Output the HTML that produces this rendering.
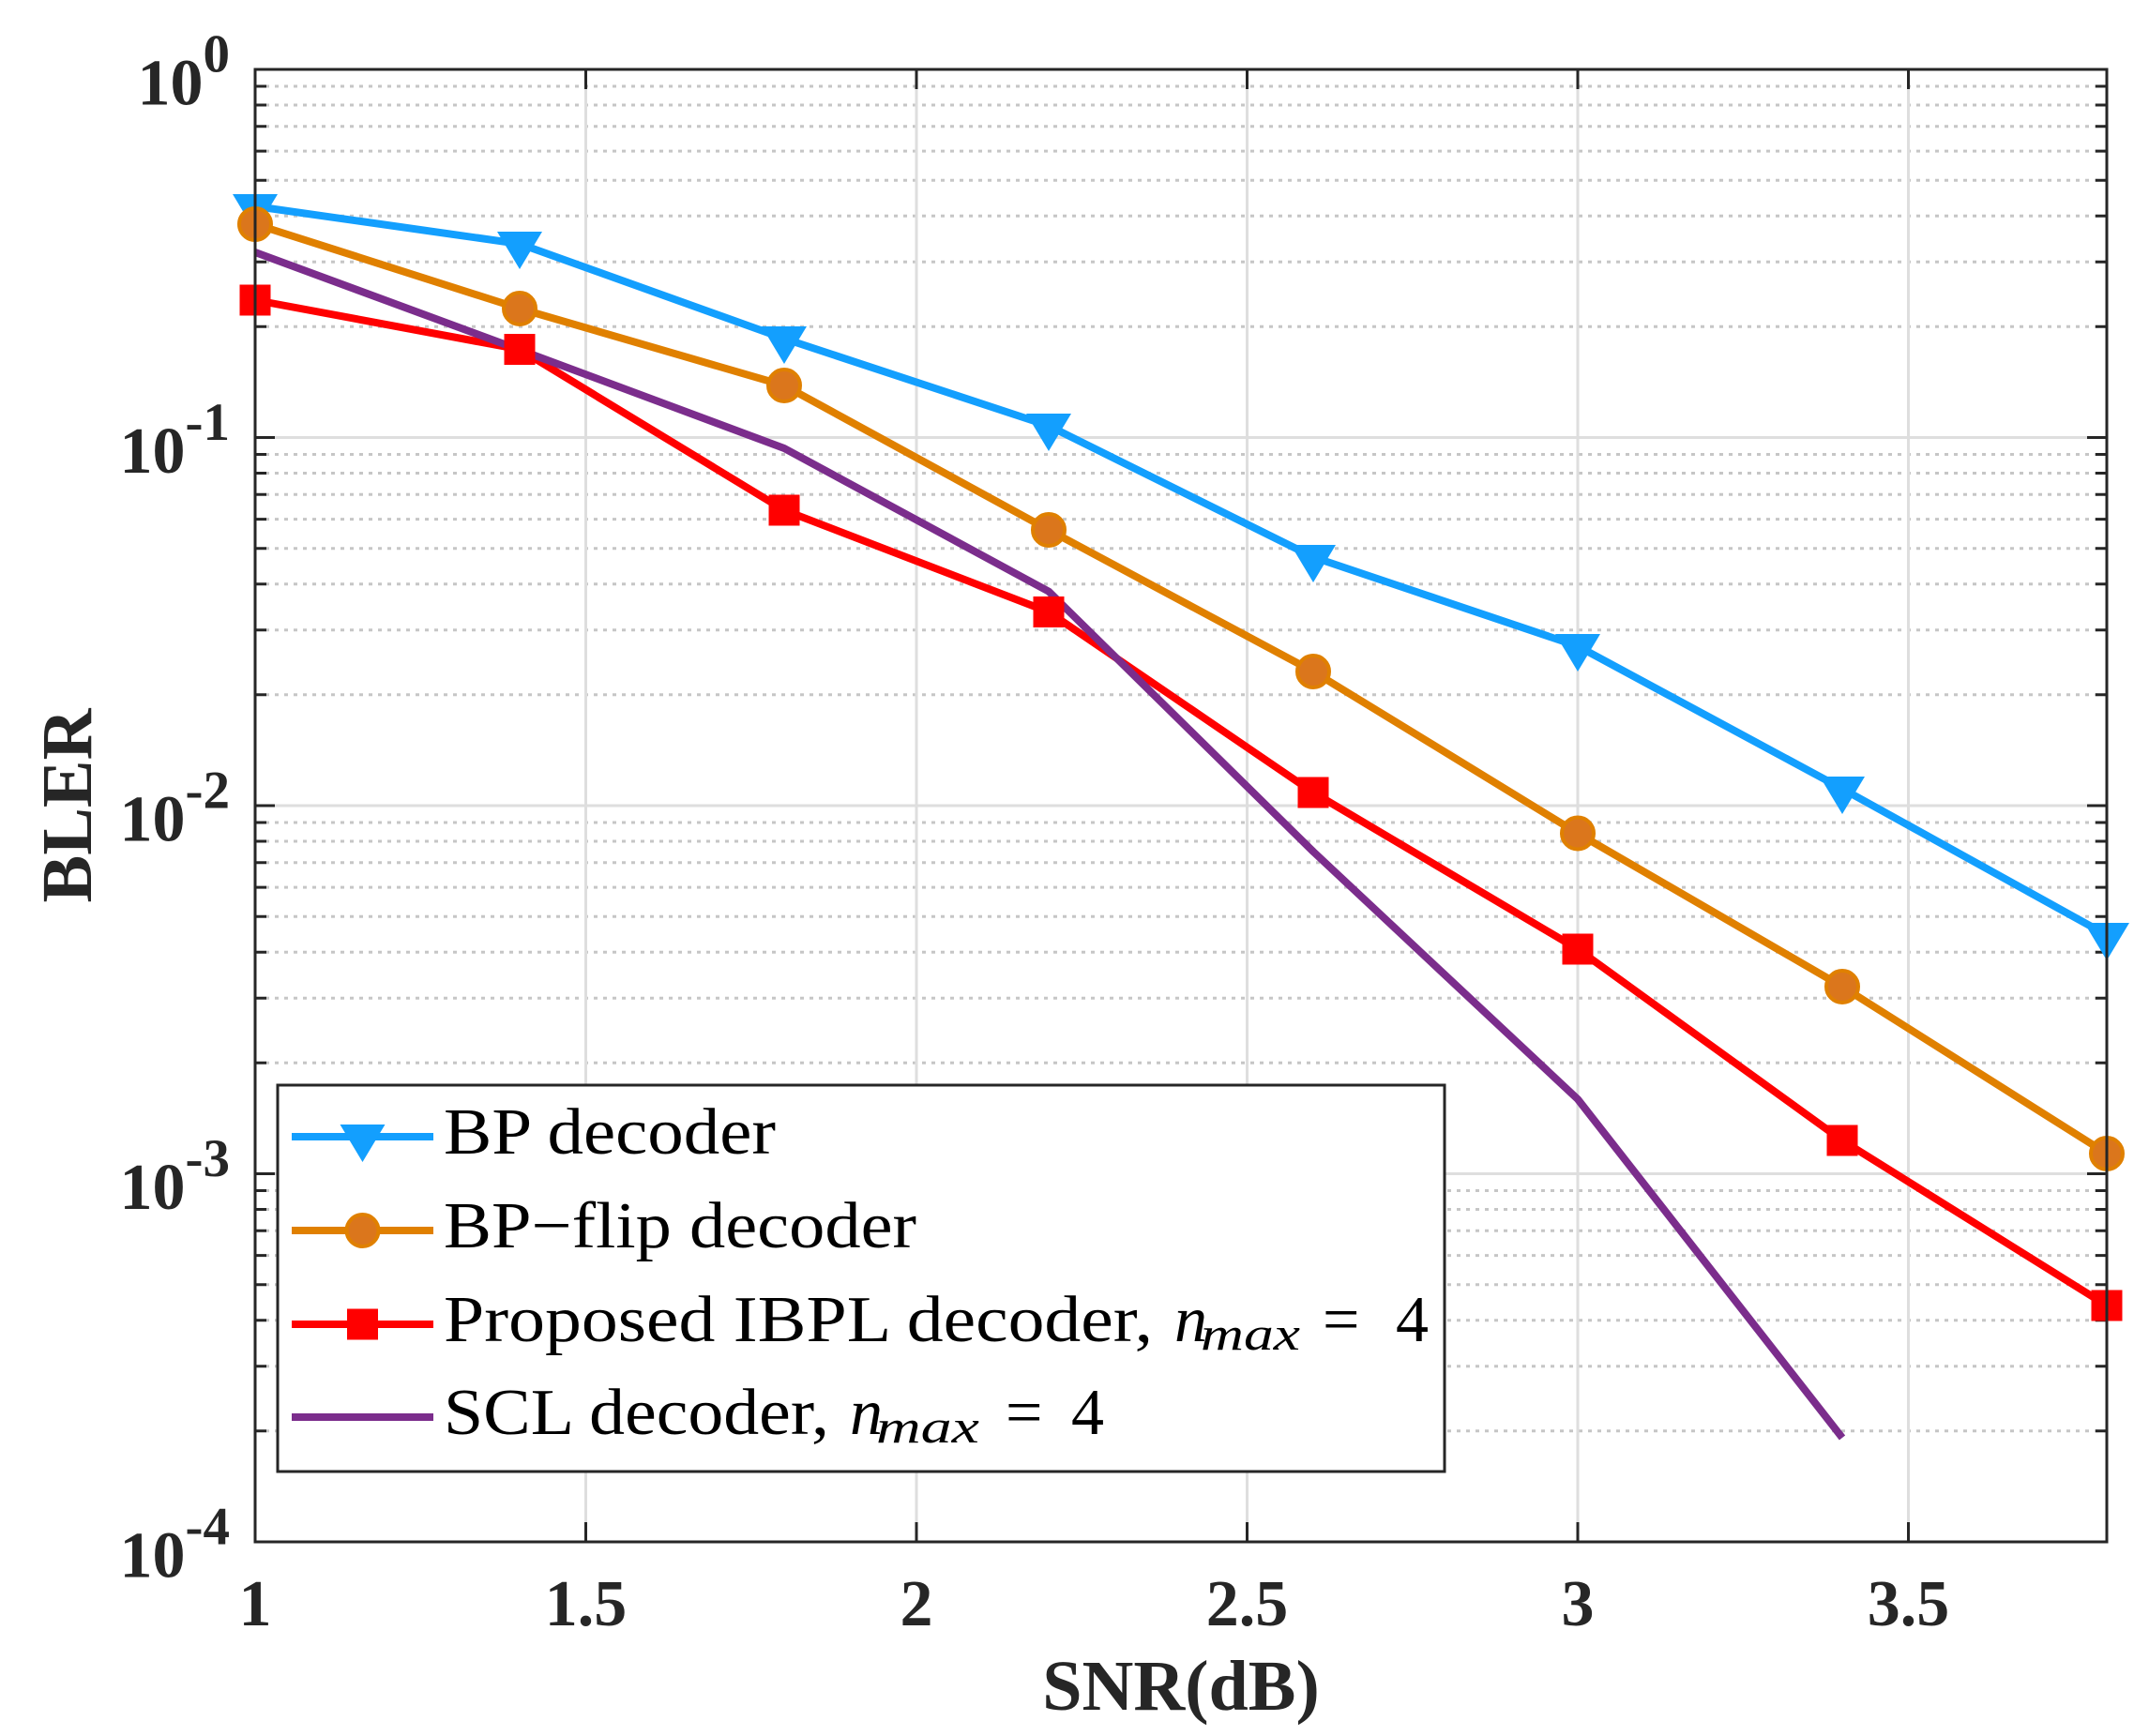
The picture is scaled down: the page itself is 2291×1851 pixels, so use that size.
<!DOCTYPE html>
<html>
<head>
<meta charset="utf-8">
<style>
html,body{margin:0;padding:0;background:#fff;}
svg{display:block;}
</style>
</head>
<body>
<svg width="2291" height="1851" viewBox="0 0 2291 1851" xmlns="http://www.w3.org/2000/svg">
<rect x="0" y="0" width="2291" height="1851" fill="#ffffff"/>

<!-- minor y grid (dotted) -->
<path fill="none" stroke="#c6c6c6" stroke-width="3" stroke-dasharray="4 6"
d="M283 348.3H2246 M283 279.2H2246 M283 230.2H2246 M283 192.2H2246 M283 161.1H2246 M283 134.8H2246 M283 112H2246 M283 92H2246
M283 740.8H2246 M283 671.7H2246 M283 622.7H2246 M283 584.7H2246 M283 553.6H2246 M283 527.3H2246 M283 504.5H2246 M283 484.5H2246
M283 1133.3H2246 M283 1064.2H2246 M283 1015.2H2246 M283 977.2H2246 M283 946.1H2246 M283 919.8H2246 M283 897H2246 M283 877H2246
M283 1525.8H2246 M283 1456.7H2246 M283 1407.7H2246 M283 1369.7H2246 M283 1338.6H2246 M283 1312.3H2246 M283 1289.5H2246 M283 1269.5H2246"/>

<!-- major grid -->
<path fill="none" stroke="#dedede" stroke-width="3"
d="M272 466.5H2246 M272 859H2246 M272 1251.5H2246
M624.5 74V1644 M977 74V1644 M1329.5 74V1644 M1682 74V1644 M2034.5 74V1644"/>

<!-- ticks -->
<path fill="none" stroke="#262626" stroke-width="3"
d="M272 466.5H293 M272 859H293 M272 1251.5H293
M2246 466.5H2225 M2246 859H2225 M2246 1251.5H2225
M272 348.3H284 M272 279.2H284 M272 230.2H284 M272 192.2H284 M272 161.1H284 M272 134.8H284 M272 112H284 M272 92H284
M272 740.8H284 M272 671.7H284 M272 622.7H284 M272 584.7H284 M272 553.6H284 M272 527.3H284 M272 504.5H284 M272 484.5H284
M272 1133.3H284 M272 1064.2H284 M272 1015.2H284 M272 977.2H284 M272 946.1H284 M272 919.8H284 M272 897H284 M272 877H284
M272 1525.8H284 M272 1456.7H284 M272 1407.7H284 M272 1369.7H284 M272 1338.6H284 M272 1312.3H284 M272 1289.5H284 M272 1269.5H284
M2246 348.3H2234 M2246 279.2H2234 M2246 230.2H2234 M2246 192.2H2234 M2246 161.1H2234 M2246 134.8H2234 M2246 112H2234 M2246 92H2234
M2246 740.8H2234 M2246 671.7H2234 M2246 622.7H2234 M2246 584.7H2234 M2246 553.6H2234 M2246 527.3H2234 M2246 504.5H2234 M2246 484.5H2234
M2246 1133.3H2234 M2246 1064.2H2234 M2246 1015.2H2234 M2246 977.2H2234 M2246 946.1H2234 M2246 919.8H2234 M2246 897H2234 M2246 877H2234
M2246 1525.8H2234 M2246 1456.7H2234 M2246 1407.7H2234 M2246 1369.7H2234 M2246 1338.6H2234 M2246 1312.3H2234 M2246 1289.5H2234 M2246 1269.5H2234
M624.5 1644V1623 M977 1644V1623 M1329.5 1644V1623 M1682 1644V1623 M2034.5 1644V1623
M624.5 74V95 M977 74V95 M1329.5 74V95 M1682 74V95 M2034.5 74V95"/>

<!-- series lines -->
<g fill="none" stroke-width="8" stroke-linejoin="round" stroke-linecap="butt">
  <polyline stroke="#139ffe" points="272,220 554,260 836,361 1118,454 1400,594 1682,689 1964,841 2246,997"/>
  <polyline stroke="#e08000" points="272,239 554,329 836,411 1118,565 1400,716 1682,888.5 1964,1052 2246,1230"/>
  <polyline stroke="#ff0000" points="272,320 554,372.5 836,544 1118,652.5 1400,845 1682,1012 1964,1216 2246,1392"/>
  <polyline stroke="#7b2d8c" points="272,269 554,373 836,478 1118,630.6 1400,908 1682,1172 1964,1533"/>
</g>

<!-- markers: blue triangles -->
<g fill="#139ffe">
  <polygon points="248,207 296,207 272,247"/>
  <polygon points="530,247 578,247 554,287"/>
  <polygon points="812,348 860,348 836,388"/>
  <polygon points="1094,441 1142,441 1118,481"/>
  <polygon points="1376,581 1424,581 1400,621"/>
  <polygon points="1658,676 1706,676 1682,716"/>
  <polygon points="1940,828 1988,828 1964,868"/>
  <polygon points="2222,984 2270,984 2246,1024"/>
</g>
<!-- orange circles -->
<g fill="#db761c" stroke="#e08000" stroke-width="4">
  <circle cx="272" cy="239" r="17"/>
  <circle cx="554" cy="329" r="17"/>
  <circle cx="836" cy="411" r="17"/>
  <circle cx="1118" cy="565" r="17"/>
  <circle cx="1400" cy="716" r="17"/>
  <circle cx="1682" cy="888.5" r="17"/>
  <circle cx="1964" cy="1052" r="17"/>
  <circle cx="2246" cy="1230" r="17"/>
</g>
<!-- red squares -->
<g fill="#ff0000">
  <rect x="255.5" y="303.5" width="33" height="33"/>
  <rect x="537.5" y="356" width="33" height="33"/>
  <rect x="819.5" y="527.5" width="33" height="33"/>
  <rect x="1101.5" y="636" width="33" height="33"/>
  <rect x="1383.5" y="828.5" width="33" height="33"/>
  <rect x="1665.5" y="995.5" width="33" height="33"/>
  <rect x="1947.5" y="1199.5" width="33" height="33"/>
  <rect x="2229.5" y="1375.5" width="33" height="33"/>
</g>

<!-- axes frame -->
<rect x="272" y="74" width="1974" height="1570" fill="none" stroke="#262626" stroke-width="3"/>

<!-- y tick labels -->
<g font-family="'Liberation Serif', serif" font-weight="bold" fill="#262626" text-anchor="end">
  <text x="245" y="111.5" font-size="70">10<tspan font-size="57" dy="-35">0</tspan></text>
  <text x="245" y="504" font-size="70">10<tspan font-size="57" dy="-35">-1</tspan></text>
  <text x="245" y="896.5" font-size="70">10<tspan font-size="57" dy="-35">-2</tspan></text>
  <text x="245" y="1289" font-size="70">10<tspan font-size="57" dy="-35">-3</tspan></text>
  <text x="245" y="1681.5" font-size="70">10<tspan font-size="57" dy="-35">-4</tspan></text>
</g>

<!-- x tick labels -->
<g font-family="'Liberation Serif', serif" font-weight="bold" fill="#262626" text-anchor="middle" font-size="70">
  <text x="272" y="1733">1</text>
  <text x="624.5" y="1733">1.5</text>
  <text x="977" y="1733">2</text>
  <text x="1329.5" y="1733">2.5</text>
  <text x="1682" y="1733">3</text>
  <text x="2034.5" y="1733">3.5</text>
</g>

<!-- axis labels -->
<text x="1259" y="1823" font-family="'Liberation Serif', serif" font-weight="bold" font-size="76" fill="#262626" text-anchor="middle">SNR(dB)</text>
<text transform="translate(97,859) rotate(-90)" font-family="'Liberation Serif', serif" font-weight="bold" font-size="76" fill="#262626" text-anchor="middle">BLER</text>

<!-- legend -->
<rect x="296" y="1157" width="1244" height="412" fill="#ffffff" stroke="#262626" stroke-width="3"/>
<g stroke-width="8" fill="none">
  <line x1="311" y1="1212" x2="462" y2="1212" stroke="#139ffe"/>
  <line x1="311" y1="1312" x2="462" y2="1312" stroke="#e08000"/>
  <line x1="311" y1="1412" x2="462" y2="1412" stroke="#ff0000"/>
  <line x1="311" y1="1511" x2="462" y2="1511" stroke="#7b2d8c"/>
</g>
<polygon points="362.5,1199 410.5,1199 386.5,1239" fill="#139ffe"/>
<circle cx="386.5" cy="1312" r="17" fill="#db761c" stroke="#e08000" stroke-width="4"/>
<rect x="370" y="1395.5" width="33" height="33" fill="#ff0000"/>

<g font-family="'Liberation Serif', serif" font-size="70" fill="#000000">
  <text x="473" y="1230" textLength="354" lengthAdjust="spacingAndGlyphs">BP decoder</text>
  <text x="473" y="1330" textLength="504" lengthAdjust="spacingAndGlyphs">BP−flip decoder</text>
  <text x="473" y="1430" textLength="756" lengthAdjust="spacingAndGlyphs">Proposed IBPL decoder,</text>
  <text x="1252" y="1430" font-style="italic">n</text>
  <text x="1280" y="1439" font-style="italic" font-size="50" textLength="106" lengthAdjust="spacingAndGlyphs">max</text>
  <text x="1410" y="1430">=</text>
  <text x="1488" y="1430">4</text>
  <text x="473" y="1529" textLength="411" lengthAdjust="spacingAndGlyphs">SCL decoder,</text>
  <text x="906" y="1529" font-style="italic">n</text>
  <text x="934" y="1538" font-style="italic" font-size="50" textLength="110" lengthAdjust="spacingAndGlyphs">max</text>
  <text x="1072" y="1529">=</text>
  <text x="1142" y="1529">4</text>
</g>
</svg>
</body>
</html>
